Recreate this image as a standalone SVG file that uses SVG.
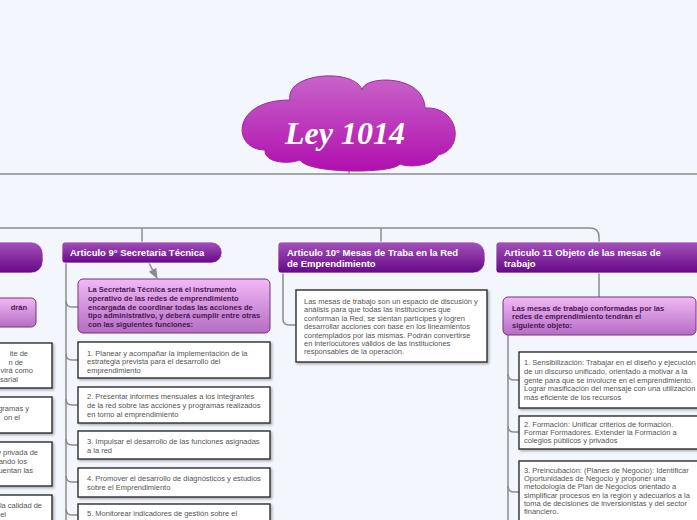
<svg xmlns="http://www.w3.org/2000/svg" width="697" height="520" viewBox="0 0 697 520">
<defs>
<linearGradient id="gCloud" x1="0" y1="78" x2="0" y2="172" gradientUnits="userSpaceOnUse">
<stop offset="0" stop-color="#c862c8"/>
<stop offset="1" stop-color="#b00eae"/>
</linearGradient>
<linearGradient id="gHead" x1="0" y1="0" x2="0" y2="1">
<stop offset="0" stop-color="#a352ba"/>
<stop offset="1" stop-color="#670887"/>
</linearGradient>
<linearGradient id="gPink" x1="0" y1="0" x2="0" y2="1">
<stop offset="0" stop-color="#f2b8f6"/>
<stop offset="1" stop-color="#b46dc3"/>
</linearGradient>
<filter id="sh" x="-5%" y="-10%" width="115%" height="130%">
<feDropShadow dx="1.5" dy="1.5" stdDeviation="1" flood-color="#000" flood-opacity="0.3"/>
</filter>
<marker id="arr" viewBox="0 0 10 10" refX="9" refY="5" markerWidth="7" markerHeight="7" orient="auto">
<path d="M0,1 L10,5 L0,9 Z" fill="#8a8a8a"/>
</marker>
<style>
.head{fill:url(#gHead);stroke:#ffffff;stroke-opacity:0.7;stroke-width:1}
.ht{font-family:"Liberation Sans",Arial,sans-serif;font-size:9.5px;font-weight:bold;fill:#ffffff}
.pink{fill:url(#gPink);stroke:#74337f;stroke-width:1}
.pt{font-family:"Liberation Sans",Arial,sans-serif;font-size:7.5px;font-weight:bold;fill:#4a1752}
.wb{fill:#ffffff;stroke:#2e2e2e;stroke-width:1.4;filter:url(#sh)}
.wt{font-family:"Liberation Sans",Arial,sans-serif;font-size:7.5px;fill:#555555}
.ln{fill:none;stroke:#8c8c8c;stroke-width:1.5}
</style>
</defs>
<rect x="0" y="0" width="697" height="520" fill="#f3f6fd"/>

<g id="connectors">
<path class="ln" d="M0,174 H697"/>
<path class="ln" d="M349,168 V174"/>
<path class="ln" d="M0,228 H590 Q599,228 599,237 V242"/>
<path class="ln" d="M142,228 V242"/>
<path class="ln" d="M381,228 V242"/>
<path class="ln" d="M66,263 V520"/>
<path class="ln" d="M66,301 Q66,307 72,307 H78"/>
<path class="ln" d="M66,354 Q66,360 72,360 H78"/>
<path class="ln" d="M66,399 Q66,405 72,405 H78"/>
<path class="ln" d="M66,439 Q66,445 72,445 H78"/>
<path class="ln" d="M66,476 Q66,482 72,482 H78"/>
<path class="ln" d="M66,509 Q66,515 72,515 H78"/>
<path class="ln" d="M149,263 L157,278" marker-end="url(#arr)"/>
<path class="ln" d="M283,273 V319 Q283,325 289,325 H296"/>
<path class="ln" d="M599,273 V297"/>
<path class="ln" d="M508,335 V520"/>
<path class="ln" d="M508,374 Q508,380 514,380 H519"/>
<path class="ln" d="M508,426 Q508,432 514,432 H519"/>
<path class="ln" d="M508,486 Q508,492 514,492 H519"/>
</g>

<g id="cloud">
<path d="M265,150 C232,150 230,100 290,100 C285,72 355,68 362,90 C364,75 424,74 425,108 C460,106 465,150 438,155 C434,166 408,168 400,164 C393,174 308,174 300,160 C286,165 264,162 265,150 Z" fill="url(#gCloud)" stroke="#9a2a9a" stroke-width="1"/>
<text x="345" y="144" text-anchor="middle" font-family="'Liberation Serif','Times New Roman',serif" font-size="32" font-weight="bold" font-style="italic" fill="#ffffff">Ley 1014</text>
</g>

<g id="col1-head">
<path class="head" d="M-170,242 H31 A12,12 0 0 1 43,254 V261 A12,12 0 0 1 31,273 H-170 Z"/>
</g>
<g id="col1-sub">
<rect class="pink" x="-150" y="298" width="186" height="29" rx="5"/>
<text class="pt" x="27" y="310" text-anchor="end">drán</text>
</g>
<g id="col1-b1">
<rect class="wb" x="-150" y="343" width="202" height="45"/>
<text class="wt" text-anchor="end"><tspan x="28" y="355.5">ite de</tspan><tspan x="23" y="364.5">n de</tspan><tspan x="33" y="373">virá como</tspan><tspan x="18" y="381.5">esarial</tspan></text>
</g>
<g id="col1-b2">
<rect class="wb" x="-150" y="397" width="202" height="36"/>
<text class="wt" text-anchor="end"><tspan x="29" y="410.5">gramas y</tspan><tspan x="20" y="419.5">on el</tspan></text>
</g>
<g id="col1-b3">
<rect class="wb" x="-150" y="442" width="202" height="44"/>
<text class="wt" text-anchor="end"><tspan x="38" y="454.5">y privada de</tspan><tspan x="27" y="463.5">ando los</tspan><tspan x="33" y="472.5">uentan las</tspan></text>
</g>
<g id="col1-b4">
<rect class="wb" x="-150" y="495" width="202" height="40"/>
<text class="wt" text-anchor="end"><tspan x="42" y="507.5">la calidad de</tspan><tspan x="6" y="516.5">el</tspan></text>
</g>

<g id="art9">
<path class="head" d="M65,242 H212 A10.5,10.5 0 0 1 222,252.5 A10.5,10.5 0 0 1 212,263 H65 A3,3 0 0 1 62,260 V245 A3,3 0 0 1 65,242 Z"/>
<text class="ht" x="70" y="255.5">Articulo 9° Secretaria Técnica</text>
</g>
<g id="art9-sub">
<rect class="pink" x="78" y="279" width="192" height="54" rx="5"/>
<text class="pt"><tspan x="88" y="292">La Secretaria Técnica será el instrumento</tspan><tspan x="88" y="300.8">operativo de las redes de emprendimiento</tspan><tspan x="88" y="309.6">encargada de coordinar todas las acciones de</tspan><tspan x="88" y="318.4">tipo administrativo, y deberá cumplir entre otras</tspan><tspan x="88" y="327.2">con las siguientes funciones:</tspan></text>
</g>
<g id="art9-f1">
<rect class="wb" x="78" y="342" width="192" height="36"/>
<text class="wt"><tspan x="87" y="356">1. Planear y acompañar la implementación de la</tspan><tspan x="87" y="364.4">estrategia prevista para el desarrollo del</tspan><tspan x="87" y="372.8">emprendimiento</tspan></text>
</g>
<g id="art9-f2">
<rect class="wb" x="78" y="387" width="192" height="36"/>
<text class="wt"><tspan x="87" y="399">2. Presentar informes mensuales a los integrantes</tspan><tspan x="87" y="407.8">de la red sobre las acciones y programas realizados</tspan><tspan x="87" y="416.6">en torno al emprendimiento</tspan></text>
</g>
<g id="art9-f3">
<rect class="wb" x="78" y="431" width="192" height="28"/>
<text class="wt"><tspan x="87" y="444.3">3. Impulsar el desarrollo de las funciones asignadas</tspan><tspan x="87" y="453.3">a la red</tspan></text>
</g>
<g id="art9-f4">
<rect class="wb" x="78" y="468" width="192" height="29"/>
<text class="wt"><tspan x="87" y="481">4. Promover el desarrollo de diagnósticos y estudios</tspan><tspan x="87" y="489.5">sobre el Emprendimiento</tspan></text>
</g>
<g id="art9-f5">
<rect class="wb" x="78" y="504" width="192" height="30"/>
<text class="wt"><tspan x="87" y="516">5. Monitorear indicadores de gestión sobre el</tspan></text>
</g>

<g id="art10">
<path class="head" d="M281,242 H473 A12,12 0 0 1 485,254 V261 A12,12 0 0 1 473,273 H281 A3,3 0 0 1 278,270 V245 A3,3 0 0 1 281,242 Z"/>
<text class="ht"><tspan x="287" y="255.5">Articulo 10° Mesas de Traba en la Red</tspan><tspan x="287" y="267">de Emprendimiento</tspan></text>
</g>
<g id="art10-b">
<rect class="wb" x="296" y="290" width="191" height="72"/>
<text class="wt"><tspan x="304" y="304">Las mesas de trabajo son un espacio de discusión y</tspan><tspan x="304" y="312.4">análisis para que todas las instituciones que</tspan><tspan x="304" y="320.8">conforman la Red, se sientan partícipes y logren</tspan><tspan x="304" y="329.2">desarrollar acciones con base en los lineamientos</tspan><tspan x="304" y="337.6">contemplados por las mismas. Podrán convertirse</tspan><tspan x="304" y="346">en interlocutores válidos de las instituciones</tspan><tspan x="304" y="354.4">responsables de la operación.</tspan></text>
</g>

<g id="art11">
<path class="head" d="M499,242 H700 A12,12 0 0 1 712,254 V261 A12,12 0 0 1 700,273 H499 A3,3 0 0 1 496,270 V245 A3,3 0 0 1 499,242 Z"/>
<text class="ht"><tspan x="504" y="255.5">Articulo 11 Objeto de las mesas de</tspan><tspan x="504" y="267">trabajo</tspan></text>
</g>
<g id="art11-sub">
<rect class="pink" x="503" y="297" width="193" height="38" rx="5"/>
<text class="pt"><tspan x="512" y="310.5">Las mesas de trabajo conformadas por las</tspan><tspan x="512" y="319.3">redes de emprendimiento tendrán el</tspan><tspan x="512" y="328.1">siguiente objeto:</tspan></text>
</g>
<g id="art11-o1">
<rect class="wb" x="519" y="352" width="200" height="56"/>
<text class="wt"><tspan x="524" y="365.3">1. Sensibilización: Trabajar en el diseño y ejecución</tspan><tspan x="524" y="374">de un discurso unificado, orientado a motivar a la</tspan><tspan x="524" y="382.7">gente para que se involucre en el emprendimiento.</tspan><tspan x="524" y="391.4">Lograr masificación del mensaje con una utilización</tspan><tspan x="524" y="400.1">más eficiente de los recursos</tspan></text>
</g>
<g id="art11-o2">
<rect class="wb" x="519" y="416" width="200" height="33"/>
<text class="wt"><tspan x="524" y="426.5">2. Formación: Unificar criterios de formación.</tspan><tspan x="524" y="434.8">Formar Formadores. Extender la Formación a</tspan><tspan x="524" y="443.1">colegios públicos y privados</tspan></text>
</g>
<g id="art11-o3">
<rect class="wb" x="519" y="461" width="200" height="70"/>
<text class="wt"><tspan x="524" y="473">3. Preincubación: (Planes de Negocio): Identificar</tspan><tspan x="524" y="481.2">Oportunidades de Negocio y proponer una</tspan><tspan x="524" y="489.4">metodología de Plan de Negocios orientado a</tspan><tspan x="524" y="497.6">simplificar procesos en la región y adecuarlos a la</tspan><tspan x="524" y="505.8">toma de decisiones de inversionistas y del sector</tspan><tspan x="524" y="514">financiero.</tspan></text>
</g>
</svg>
